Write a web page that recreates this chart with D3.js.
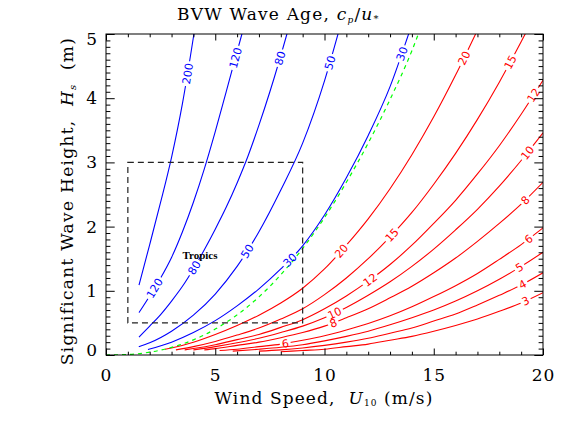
<!DOCTYPE html>
<html lang="en">
<head>
<meta charset="utf-8">
<script src="https://d3js.org/d3.v7.min.js"></script>
<style>
  body { margin: 0; background: #fff; }
  svg text { font-family: "DejaVu Serif", serif; fill: #000; }
</style>
</head>
<body>
<svg id="chart"></svg>
<script>
const width = 576;
const height = 424;

// wave age contours, points as [U10 (m/s), Hs (m)]
const age200 = [[1.51, 1.09], [2, 1.72], [2.5, 2.38], [3, 3.08], [3.5, 3.92], [4, 4.95], [4.1, 5.17]];
const age120 = [[1.51, 0.66], [2, 0.92], [2.5, 1.2], [3, 1.52], [3.5, 1.92], [4, 2.38], [4.5, 2.9], [5, 3.48], [5.5, 4.1], [6.22, 5.0], [6.4, 5.22]];
const age80 = [[1.51, 0.28], [2, 0.45], [2.5, 0.63], [3, 0.84], [3.5, 1.07], [4, 1.34], [4.5, 1.64], [5, 1.96], [5.5, 2.3], [6, 2.68], [6.5, 3.1], [7, 3.58], [7.5, 4.1], [8.28, 5.0], [8.5, 5.27]];
const age50 = [[1.5, 0.13], [2, 0.19], [3, 0.37], [4, 0.62], [5, 0.95], [6, 1.38], [7, 1.92], [8, 2.57], [9, 3.3], [10, 4.27], [10.7, 5.1]];
const age30 = [[1.92, 0.085], [3, 0.2], [4, 0.35], [5, 0.535], [6, 0.765], [7, 1.03], [8, 1.34], [9, 1.7], [10, 2.18], [11, 2.76], [12, 3.42], [13, 4.18], [13.85, 5.0], [14, 5.15]];
const age20 = [[2.7, 0.09], [3, 0.11], [4, 0.2], [5, 0.32], [6, 0.46], [7, 0.62], [8, 0.81], [9, 1.04], [10, 1.34], [11, 1.71], [12, 2.12], [13, 2.59], [14, 3.12], [15, 3.71], [16, 4.36], [17, 5.06]];
const age15 = [[3.2, 0.08], [4, 0.13], [5, 0.21], [6, 0.31], [7, 0.42], [8, 0.56], [9, 0.72], [10, 0.94], [11, 1.2], [12, 1.5], [13, 1.84], [14, 2.22], [15, 2.66], [16, 3.14], [17, 3.67], [18, 4.25], [19, 4.88], [19.4, 5.14]];
const age12 = [[3.6, 0.08], [4, 0.1], [5, 0.16], [6, 0.24], [7, 0.32], [8, 0.43], [9, 0.55], [10, 0.72], [11, 0.92], [12, 1.15], [13, 1.41], [14, 1.71], [15, 2.05], [16, 2.41], [17, 2.82], [18, 3.26], [19, 3.75], [20, 4.28]];
const age10 = [[4, 0.08], [5, 0.13], [6, 0.19], [7, 0.26], [8, 0.35], [9, 0.45], [10, 0.58], [11, 0.74], [12, 0.93], [13, 1.14], [14, 1.38], [15, 1.65], [16, 1.95], [17, 2.27], [18, 2.63], [19, 3.03], [20, 3.46]];
const age8 = [[4.5, 0.08], [5, 0.1], [6, 0.15], [7, 0.2], [8, 0.27], [9, 0.35], [10, 0.45], [11, 0.58], [12, 0.72], [13, 0.89], [14, 1.07], [15, 1.28], [16, 1.51], [17, 1.77], [18, 2.05], [19, 2.35], [20, 2.69]];
const age6 = [[5.2, 0.07], [6, 0.09], [7, 0.13], [8, 0.17], [9, 0.23], [10, 0.3], [11, 0.39], [12, 0.49], [13, 0.61], [14, 0.75], [15, 0.91], [16, 1.08], [17, 1.27], [18, 1.49], [19, 1.72], [20, 1.98]];
const age5 = [[5.8, 0.06], [7, 0.09], [8, 0.12], [9, 0.16], [10, 0.22], [11, 0.29], [12, 0.37], [13, 0.47], [14, 0.58], [15, 0.7], [16, 0.84], [17, 1.0], [18, 1.18], [19, 1.38], [20, 1.6]];
const age4 = [[7, 0.06], [8, 0.08], [9, 0.11], [10, 0.15], [11, 0.2], [12, 0.26], [13, 0.34], [14, 0.42], [15, 0.53], [16, 0.64], [17, 0.78], [18, 0.93], [19, 1.09], [20, 1.28]];
const age3 = [[8, 0.05], [9, 0.07], [10, 0.09], [11, 0.13], [12, 0.17], [13, 0.23], [14, 0.29], [15, 0.37], [16, 0.46], [17, 0.56], [18, 0.68], [19, 0.81], [20, 0.97]];

const ageLevels = [200, 120, 80, 50, 30, 20, 15, 12, 10, 8, 6, 5, 4, 3];
const ageCurves = [age200, age120, age80, age50, age30, age20, age15, age12, age10, age8, age6, age5, age4, age3];

// fully developed sea (green dashed)
const fullyDeveloped = [[0, 0], [1, 0.008], [2, 0.044], [3, 0.118], [4, 0.236], [5, 0.404], [6, 0.625], [7, 0.905], [8, 1.25], [9, 1.66], [10, 2.14], [11, 2.69], [12, 3.3], [13, 3.98], [14, 4.74], [14.35, 5.05]];

// tropics box [U min, U max], [Hs min, Hs max]
const tropicsU = [1, 9];
const tropicsHs = [0.5, 3];

const xMajor = [0, 5, 10, 15, 20];
const yMajor = [0, 1, 2, 3, 4, 5];

const svg = d3.select('#chart').attr('width', width).attr('height', height);

const x = d3.scaleLinear().domain([0, 20]).range([106, 543]);
const y = d3.scaleLinear().domain([0, 5]).range([355, 34]);

const defs = svg.append('defs');
defs.append('clipPath').attr('id', 'plotclip')
    .append('rect')
    .attr('x', x(0)).attr('y', y(5))
    .attr('width', x(20) - x(0)).attr('height', y(0) - y(5));

const line = d3.line()
    .x(d => x(d[0]))
    .y(d => y(d[1]))
    .curve(d3.curveMonotoneX);

// contour label spots (nearest point on the curve is used)
const labelSpots = {
    200: [[3.57, 4.39]],
    120: [[5.81, 4.64], [2.24, 1.04]],
    80: [[7.87, 4.63], [3.98, 1.37]],
    50: [[10.25, 4.55], [6.54, 1.6]],
    30: [[13.46, 4.7], [8.42, 1.48]],
    20: [[16.29, 4.64], [10.71, 1.64]],
    15: [[18.49, 4.56], [13.09, 1.87]],
    12: [[19.54, 4.05], [12.08, 1.17]],
    10: [[19.27, 3.16], [10.43, 0.685]],
    8: [[19.08, 2.45], [10.39, 0.5]],
    6: [[19.31, 1.82], [8.19, 0.19]],
    5: [[18.86, 1.4]],
    4: [[19.04, 1.12]],
    3: [[19.18, 0.87]]
};

const plot = svg.append('g').attr('clip-path', 'url(#plotclip)');
const labelLayer = svg.append('g');

ageCurves.forEach((pts, i) => {
    const level = ageLevels[i];
    const color = level >= 30 ? '#0000ff' : '#ff0000';
    const maskId = 'm' + level;
    const mask = defs.append('mask').attr('id', maskId)
        .attr('maskUnits', 'userSpaceOnUse')
        .attr('x', 0).attr('y', 0).attr('width', width).attr('height', height);
    mask.append('rect').attr('width', width).attr('height', height).attr('fill', '#fff');

    const path = plot.append('path')
        .attr('d', line(pts))
        .attr('fill', 'none')
        .attr('stroke', color)
        .attr('stroke-width', 1.1)
        .attr('mask', `url(#${maskId})`);

    const node = path.node();
    const len = node.getTotalLength();
    (labelSpots[level] || []).forEach(spot => {
        const ax = x(spot[0]), ay = y(spot[1]);
        let best = 0, bestD = Infinity;
        for (let l = 0; l <= len; l += 0.5) {
            const p = node.getPointAtLength(l);
            const d = (p.x - ax) ** 2 + (p.y - ay) ** 2;
            if (d < bestD) { bestD = d; best = l; }
        }
        const p = node.getPointAtLength(best);
        const p0 = node.getPointAtLength(Math.max(0, best - 5));
        const p1 = node.getPointAtLength(Math.min(len, best + 5));
        let ang = Math.atan2(p1.y - p0.y, p1.x - p0.x) * 180 / Math.PI;
        if (ang > 90) ang -= 180;
        if (ang < -90) ang += 180;
        const tf = `translate(${p.x},${p.y}) rotate(${ang})`;
        const t = labelLayer.append('text')
            .attr('transform', tf)
            .attr('text-anchor', 'middle')
            .attr('dy', '0.36em')
            .style('font-family', '"DejaVu Sans", sans-serif')
            .style('font-size', '11px')
            .style('fill', color)
            .text(level);
        const bb = t.node().getBBox();
        mask.append('rect')
            .attr('transform', tf)
            .attr('x', bb.x - 2).attr('y', bb.y + 1)
            .attr('width', bb.width + 4).attr('height', bb.height - 2)
            .attr('fill', '#000');
    });
});

plot.append('path')
    .attr('d', line(fullyDeveloped))
    .attr('fill', 'none')
    .attr('stroke', '#00ff00')
    .attr('stroke-width', 1.2)
    .attr('stroke-dasharray', '4,4');

svg.append('rect')
    .attr('x', x(tropicsU[0])).attr('y', y(tropicsHs[1]))
    .attr('width', x(tropicsU[1]) - x(tropicsU[0]))
    .attr('height', y(tropicsHs[0]) - y(tropicsHs[1]))
    .attr('fill', 'none')
    .attr('stroke', '#222')
    .attr('stroke-width', 1.2)
    .attr('stroke-dasharray', '6,4');

svg.append('text')
    .attr('x', x(4.3)).attr('y', y(1.5))
    .attr('text-anchor', 'middle')
    .style('font-family', '"Liberation Serif", serif')
    .style('font-weight', 'bold')
    .style('font-size', '11px')
    .text('Tropics');

// axes: ticks inward on all four sides
const xMinor = d3.range(0, 21, 1).filter(v => v % 5 !== 0);
const yMinor = d3.range(0, 51, 1).map(v => v / 10).filter((v, i) => i % 10 !== 0);

function styleAxis(g) {
    g.select('.domain').remove();
    g.selectAll('line').attr('stroke', '#000');
    g.selectAll('text')
        .style('font-family', '"DejaVu Serif", serif')
        .style('font-size', '17px')
        .style('letter-spacing', '1px');
}

svg.append('g').attr('transform', `translate(0,${y(0)})`)
    .call(d3.axisBottom(x).tickValues(xMajor).tickSize(-6.5).tickPadding(14).tickFormat(d3.format('d')))
    .call(styleAxis);
svg.append('g').attr('transform', `translate(0,${y(0)})`)
    .call(d3.axisBottom(x).tickValues(xMinor).tickSize(-3.3).tickFormat(''))
    .call(styleAxis);
svg.append('g').attr('transform', `translate(0,${y(5)})`)
    .call(d3.axisTop(x).tickValues(xMajor).tickSize(-6.5).tickFormat(''))
    .call(styleAxis);
svg.append('g').attr('transform', `translate(0,${y(5)})`)
    .call(d3.axisTop(x).tickValues(xMinor).tickSize(-3.3).tickFormat(''))
    .call(styleAxis);

const yAxisG = svg.append('g').attr('transform', `translate(${x(0)},0)`)
    .call(d3.axisLeft(y).tickValues(yMajor).tickSize(-8.7).tickPadding(8).tickFormat(d3.format('d')))
    .call(styleAxis);
// end labels sit a little inside the frame, as in the original
yAxisG.selectAll('.tick text').attr('dy', d => d === 5 ? '0.62em' : d === 0 ? '0.05em' : '0.32em');
svg.append('g').attr('transform', `translate(${x(0)},0)`)
    .call(d3.axisLeft(y).tickValues(yMinor).tickSize(-4.4).tickFormat(''))
    .call(styleAxis);
svg.append('g').attr('transform', `translate(${x(20)},0)`)
    .call(d3.axisRight(y).tickValues(yMajor).tickSize(-8.7).tickFormat(''))
    .call(styleAxis);
svg.append('g').attr('transform', `translate(${x(20)},0)`)
    .call(d3.axisRight(y).tickValues(yMinor).tickSize(-4.4).tickFormat(''))
    .call(styleAxis);

svg.append('rect')
    .attr('x', x(0)).attr('y', y(5))
    .attr('width', x(20) - x(0)).attr('height', y(0) - y(5))
    .attr('fill', 'none')
    .attr('stroke', '#000')
    .attr('stroke-width', 1);

// title and axis titles
const title = svg.append('text')
    .attr('x', 177).attr('y', 20)
    .style('font-size', '17px')
    .style('letter-spacing', '1.2px')
    .style('white-space', 'pre');
title.append('tspan').text('BVW Wave Age, ');
title.append('tspan').style('font-style', 'italic').text('c');
title.append('tspan').attr('dy', 3).style('font-size', '9px').style('font-style', 'italic').text('p');
title.append('tspan').attr('dy', -3).text('/');
title.append('tspan').style('font-style', 'italic').text('u');
title.append('tspan').attr('dy', 2).style('font-size', '10px').text('*');

const xTitle = svg.append('text')
    .attr('x', 324).attr('y', 404)
    .attr('text-anchor', 'middle')
    .style('font-size', '17px')
    .style('letter-spacing', '1.1px')
    .style('white-space', 'pre');
xTitle.append('tspan').text('Wind Speed,  ');
xTitle.append('tspan').style('font-style', 'italic').text('U');
xTitle.append('tspan').attr('dy', 2).style('font-size', '9px').text('10');
xTitle.append('tspan').attr('dy', -2).text(' (m/s)');

const yTitle = svg.append('text')
    .attr('transform', 'translate(73,201) rotate(-90)')
    .attr('text-anchor', 'middle')
    .style('font-size', '17px')
    .style('letter-spacing', '1.3px')
    .style('white-space', 'pre');
yTitle.append('tspan').text('Significant Wave Height,  ');
yTitle.append('tspan').style('font-style', 'italic').text('H');
yTitle.append('tspan').attr('dy', 3).style('font-size', '10px').style('font-style', 'italic').text('s');
yTitle.append('tspan').attr('dy', -3).text('  (m)');
</script>
</body>
</html>
